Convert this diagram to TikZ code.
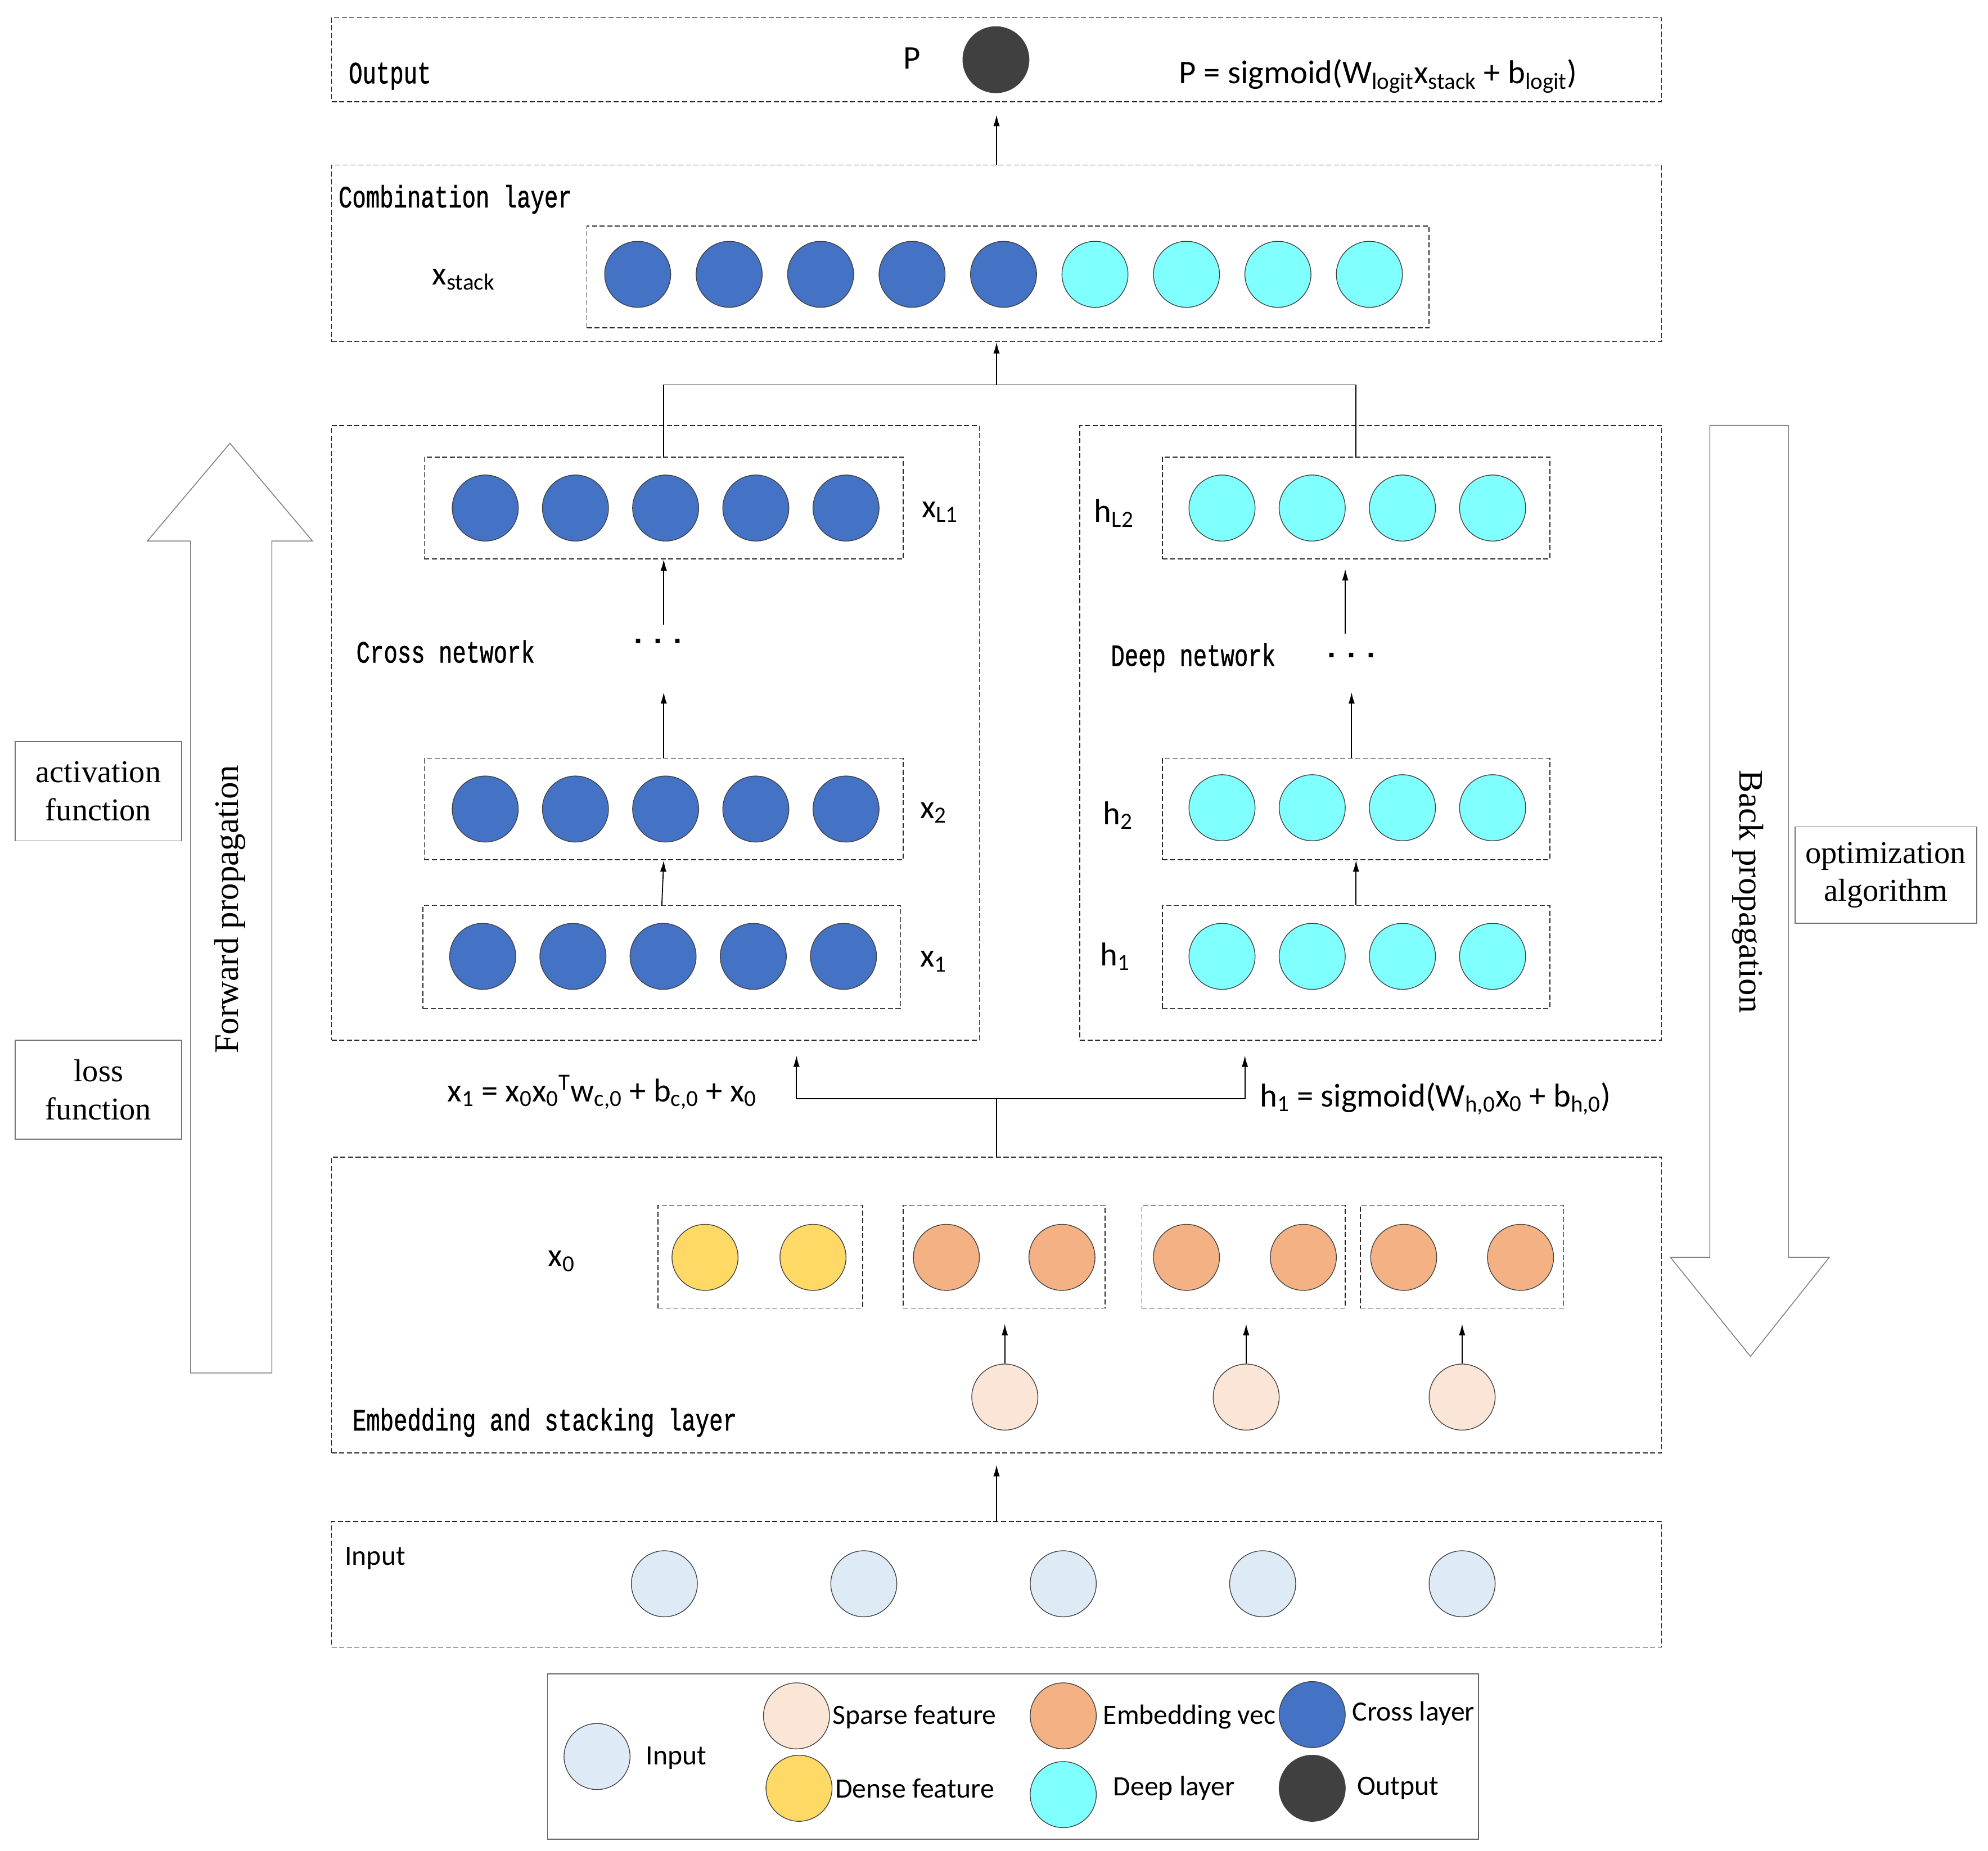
\documentclass[tikz,border=0pt]{standalone}
\usepackage{fontspec}
\setmainfont{Carlito}
\newfontfamily\monof[FakeBold=1.2]{Liberation Mono}
\newfontfamily\serf{Liberation Serif}
\newfontfamily\dotf{Liberation Sans}
\usetikzlibrary{arrows.meta}
\definecolor{cblue}{HTML}{4472C4}
\definecolor{ccyan}{HTML}{80FFFF}
\definecolor{cyell}{HTML}{FFD966}
\definecolor{corng}{HTML}{F4B183}
\definecolor{cspar}{HTML}{FBE5D6}
\definecolor{cinp}{HTML}{DEEBF7}
\definecolor{cdark}{HTML}{404040}
\newcommand{\mtxt}[1]{\scalebox{1}[1.35]{#1}}
\begin{document}
\begin{tikzpicture}[x=1pt,y=-1pt,
  nd/.style={circle,draw=black!75,line width=0.6pt,minimum size=52pt,inner sep=0pt},
  dbox/.style={rectangle,draw=black!85,dash pattern=on 4pt off 2pt,line width=0.7pt,inner sep=0pt},
  sbox/.style={rectangle,draw=black!55,line width=0.7pt,inner sep=0pt,align=center,
     font=\serf\fontsize{25}{30}\selectfont},
  arr/.style={-{Latex[length=9pt,width=5pt]},line width=0.8pt},
  ln/.style={line width=0.8pt},
  mono/.style={anchor=west,font=\monof\fontsize{18}{20}\selectfont},
  lab/.style={font=\fontsize{26}{30}\selectfont},
  leg/.style={anchor=west,font=\fontsize{22}{26}\selectfont},
  dots/.style={font=\dotf\bfseries\fontsize{24}{26}\selectfont},
  big/.style={draw=black!50,line width=0.7pt,fill=white}]
\useasboundingbox (0,0) rectangle (1565,1457);

% ---------- Output layer
\node[dbox,minimum width=1047pt,minimum height=66pt] (outbox) at (784.5,47) {};
\node[mono] (outtxt) at (271,60) {\mtxt{Output}};
\node[lab] (ptxt) at (718,46) {P};
\node[nd,fill=cdark] (pout) at (784,47) {};
\node[lab] (pform) at (1085,60) {P = sigmoid(W\textsubscript{logit}x\textsubscript{stack} + b\textsubscript{logit})};

% ---------- Combination layer
\node[dbox,minimum width=1047pt,minimum height=139pt] (combbox) at (784.5,199.5) {};
\node[mono] (combtxt) at (263,157) {\mtxt{Combination layer}};
\node[dbox,minimum width=663pt,minimum height=80pt] (stackbox) at (793.5,218) {};
\node[lab] (xstack) at (365,220) {x\textsubscript{stack}};
\foreach \x [count=\i] in {502,574,646,718,790}
  \node[nd,fill=cblue] (sc\i) at (\x,216) {};
\foreach \x [count=\i] in {862,934,1006,1078}
  \node[nd,fill=ccyan] (sd\i) at (\x,216) {};
\draw[arr,shorten >=10pt] (combbox.north) -- (outbox.south);

% ---------- Cross network
\node[dbox,minimum width=510pt,minimum height=484pt] (crossbox) at (516,577) {};
\node[mono] (crosstxt) at (277,513) {\mtxt{Cross network}};
\node[dbox,minimum width=377pt,minimum height=80pt] (xLbox) at (522.5,400) {};
\node[dbox,minimum width=377pt,minimum height=80pt] (x2box) at (522.5,637) {};
\node[dbox,minimum width=376pt,minimum height=81pt] (x1box) at (521,753.5) {};
\foreach \x [count=\i] in {382,453,524,595,666} {
  \node[nd,fill=cblue] (xl\i) at (\x,400) {};
  \node[nd,fill=cblue] (xb\i) at (\x,637) {};
}
\foreach \x [count=\i] in {380,451,522,593,664}
  \node[nd,fill=cblue] (xa\i) at (\x,753) {};
\node[lab] (xLtxt) at (740,403) {x\textsubscript{L1}};
\node[lab] (x2txt) at (735,640) {x\textsubscript{2}};
\node[lab] (x1txt) at (735,757) {x\textsubscript{1}};
\node[dots] (cdots) at (518,505) {. . .};
\coordinate (ca) at (522.5,545);
\coordinate (cb) at (522.5,492);
\draw[arr] (x1box.north) -- (x2box.south);
\draw[arr] (x2box.north) -- (ca);
\draw[arr] (cb) -- (xLbox.south);

% ---------- Deep network
\node[dbox,minimum width=458pt,minimum height=484pt] (deepbox) at (1079,577) {};
\node[mono] (deeptxt) at (871,518) {\mtxt{Deep network}};
\node[dbox,minimum width=305pt,minimum height=80pt] (hLbox) at (1067.5,400) {};
\node[dbox,minimum width=305pt,minimum height=80pt] (h2box) at (1067.5,637) {};
\node[dbox,minimum width=305pt,minimum height=81pt] (h1box) at (1067.5,753.5) {};
\foreach \x [count=\i] in {962,1033,1104,1175} {
  \node[nd,fill=ccyan] (hl\i) at (\x,400) {};
  \node[nd,fill=ccyan] (hb\i) at (\x,636) {};
  \node[nd,fill=ccyan] (ha\i) at (\x,753) {};
}
\node[lab] (hLtxt) at (877,404) {h\textsubscript{L2}};
\node[lab] (h2txt) at (880,642) {h\textsubscript{2}};
\node[lab] (h1txt) at (878,753) {h\textsubscript{1}};
\node[dots] (ddots) at (1064,516) {. . .};
\coordinate (da) at (1064,545);
\coordinate (db) at (1059,499);
\coordinate (dc) at (1059,448);
\draw[arr] (h1box.north) -- (h2box.south);
\draw[arr] (h2box.north -| da) -- (da);
\draw[arr] (db) -- (dc);

% ---------- merge to combination
\coordinate (jn) at (784.5,303);
\draw[ln] (xLbox.north) |- (jn) -| (hLbox.north);
\draw[arr] (jn) -- (combbox.south);

% ---------- formulas
\node[lab] (xform) at (474,860) {x\textsubscript{1} = x\textsubscript{0}x\textsubscript{0}\textsuperscript{T}w\textsubscript{c,0} + b\textsubscript{c,0} + x\textsubscript{0}};
\node[lab] (hform) at (1130,865) {h\textsubscript{1} = sigmoid(W\textsubscript{h,0}x\textsubscript{0} + b\textsubscript{h,0})};

% ---------- Embedding and stacking layer
\node[dbox,minimum width=1047pt,minimum height=233pt] (embbox) at (784.5,1027.5) {};
\node[mono] (embtxt) at (274,1120) {\mtxt{Embedding and stacking layer}};
\node[lab] (x0txt) at (442,993) {x\textsubscript{0}};
\node[dbox,minimum width=161pt,minimum height=81pt] (dnbox) at (598.5,989.5) {};
\node[dbox,minimum width=159pt,minimum height=81pt] (e1box) at (790.5,989.5) {};
\node[dbox,minimum width=160pt,minimum height=81pt] (e2box) at (979,989.5) {};
\node[dbox,minimum width=160pt,minimum height=81pt] (e3box) at (1151,989.5) {};
\node[nd,fill=cyell] (dn1) at (555,990) {};
\node[nd,fill=cyell] (dn2) at (640,990) {};
\foreach \x [count=\i] in {745,836,934,1026,1105,1197}
  \node[nd,fill=corng] (em\i) at (\x,990) {};
\node[nd,fill=cspar] (sp1) at (791,1100) {};
\node[nd,fill=cspar] (sp2) at (981,1100) {};
\node[nd,fill=cspar] (sp3) at (1151,1100) {};
\draw[arr,shorten >=12pt] (sp1.north) -- (sp1.north |- e1box.south);
\draw[arr,shorten >=12pt] (sp2.north) -- (sp2.north |- e2box.south);
\draw[arr,shorten >=12pt] (sp3.north) -- (sp3.north |- e3box.south);

\coordinate (kn) at (784.5,865);
\coordinate (fa) at (627,831);
\coordinate (fb) at (980,831);
\draw[ln] (embbox.north) -- (kn);
\draw[arr] (kn) -| (fa);
\draw[arr] (kn) -| (fb);

% ---------- Input layer
\node[dbox,minimum width=1047pt,minimum height=99pt] (inbox) at (784.5,1247.5) {};
\node[leg] (intxt) at (268,1227) {Input};
\foreach \x [count=\i] in {523,680,837,994,1151}
  \node[nd,fill=cinp] (in\i) at (\x,1247) {};
\draw[arr,shorten >=9pt] (inbox.north) -- (embbox.south);

% ---------- Legend
\node[rectangle,draw=black!60,line width=0.8pt,minimum width=733pt,minimum height=130pt] (legbox) at (797.5,1383) {};
\node[nd,fill=cinp] (lg1) at (470,1383) {};
\node[leg] (lt1) at (505,1384) {Input};
\node[nd,fill=cspar] (lg2) at (627,1351) {};
\node[leg] (lt2) at (652,1352) {Sparse feature};
\node[nd,fill=cyell] (lg3) at (629,1408) {};
\node[leg] (lt3) at (654,1408) {Dense feature};
\node[nd,fill=corng] (lg4) at (837,1351) {};
\node[leg] (lt4) at (865,1352) {Embedding vec};
\node[nd,fill=ccyan] (lg5) at (837,1413) {};
\node[leg] (lt5) at (873,1408) {Deep layer};
\node[nd,fill=cblue] (lg6) at (1033,1350) {};
\node[leg] (lt6) at (1061,1349) {Cross layer};
\node[nd,fill=cdark] (lg7) at (1033,1408) {};
\node[leg] (lt7) at (1065,1408) {Output};

% ---------- Forward propagation arrow
\draw[big] (150,1081) -- (150,426) -- (116,426) -- (181,349) -- (246,426) -- (214,426) -- (214,1081) -- cycle;
\node[rotate=90,font=\serf\fontsize{27}{30}\selectfont] (fwdtxt) at (181,716) {Forward propagation};
\node[sbox,minimum width=131pt,minimum height=78pt] (actbox) at (77.5,623) {activation\\function};
\node[sbox,minimum width=131pt,minimum height=78pt] (lossbox) at (77.5,858) {loss\\function};

% ---------- Back propagation arrow
\draw[big] (1346,335) -- (1408,335) -- (1408,990) -- (1440,990) -- (1378,1068) -- (1315,990) -- (1346,990) -- cycle;
\node[rotate=-90,font=\serf\fontsize{27}{30}\selectfont] (bcktxt) at (1376,702) {Back propagation};
\node[sbox,minimum width=143pt,minimum height=76pt] (optbox) at (1484.5,689) {optimization\\algorithm};
\end{tikzpicture}
\end{document}
